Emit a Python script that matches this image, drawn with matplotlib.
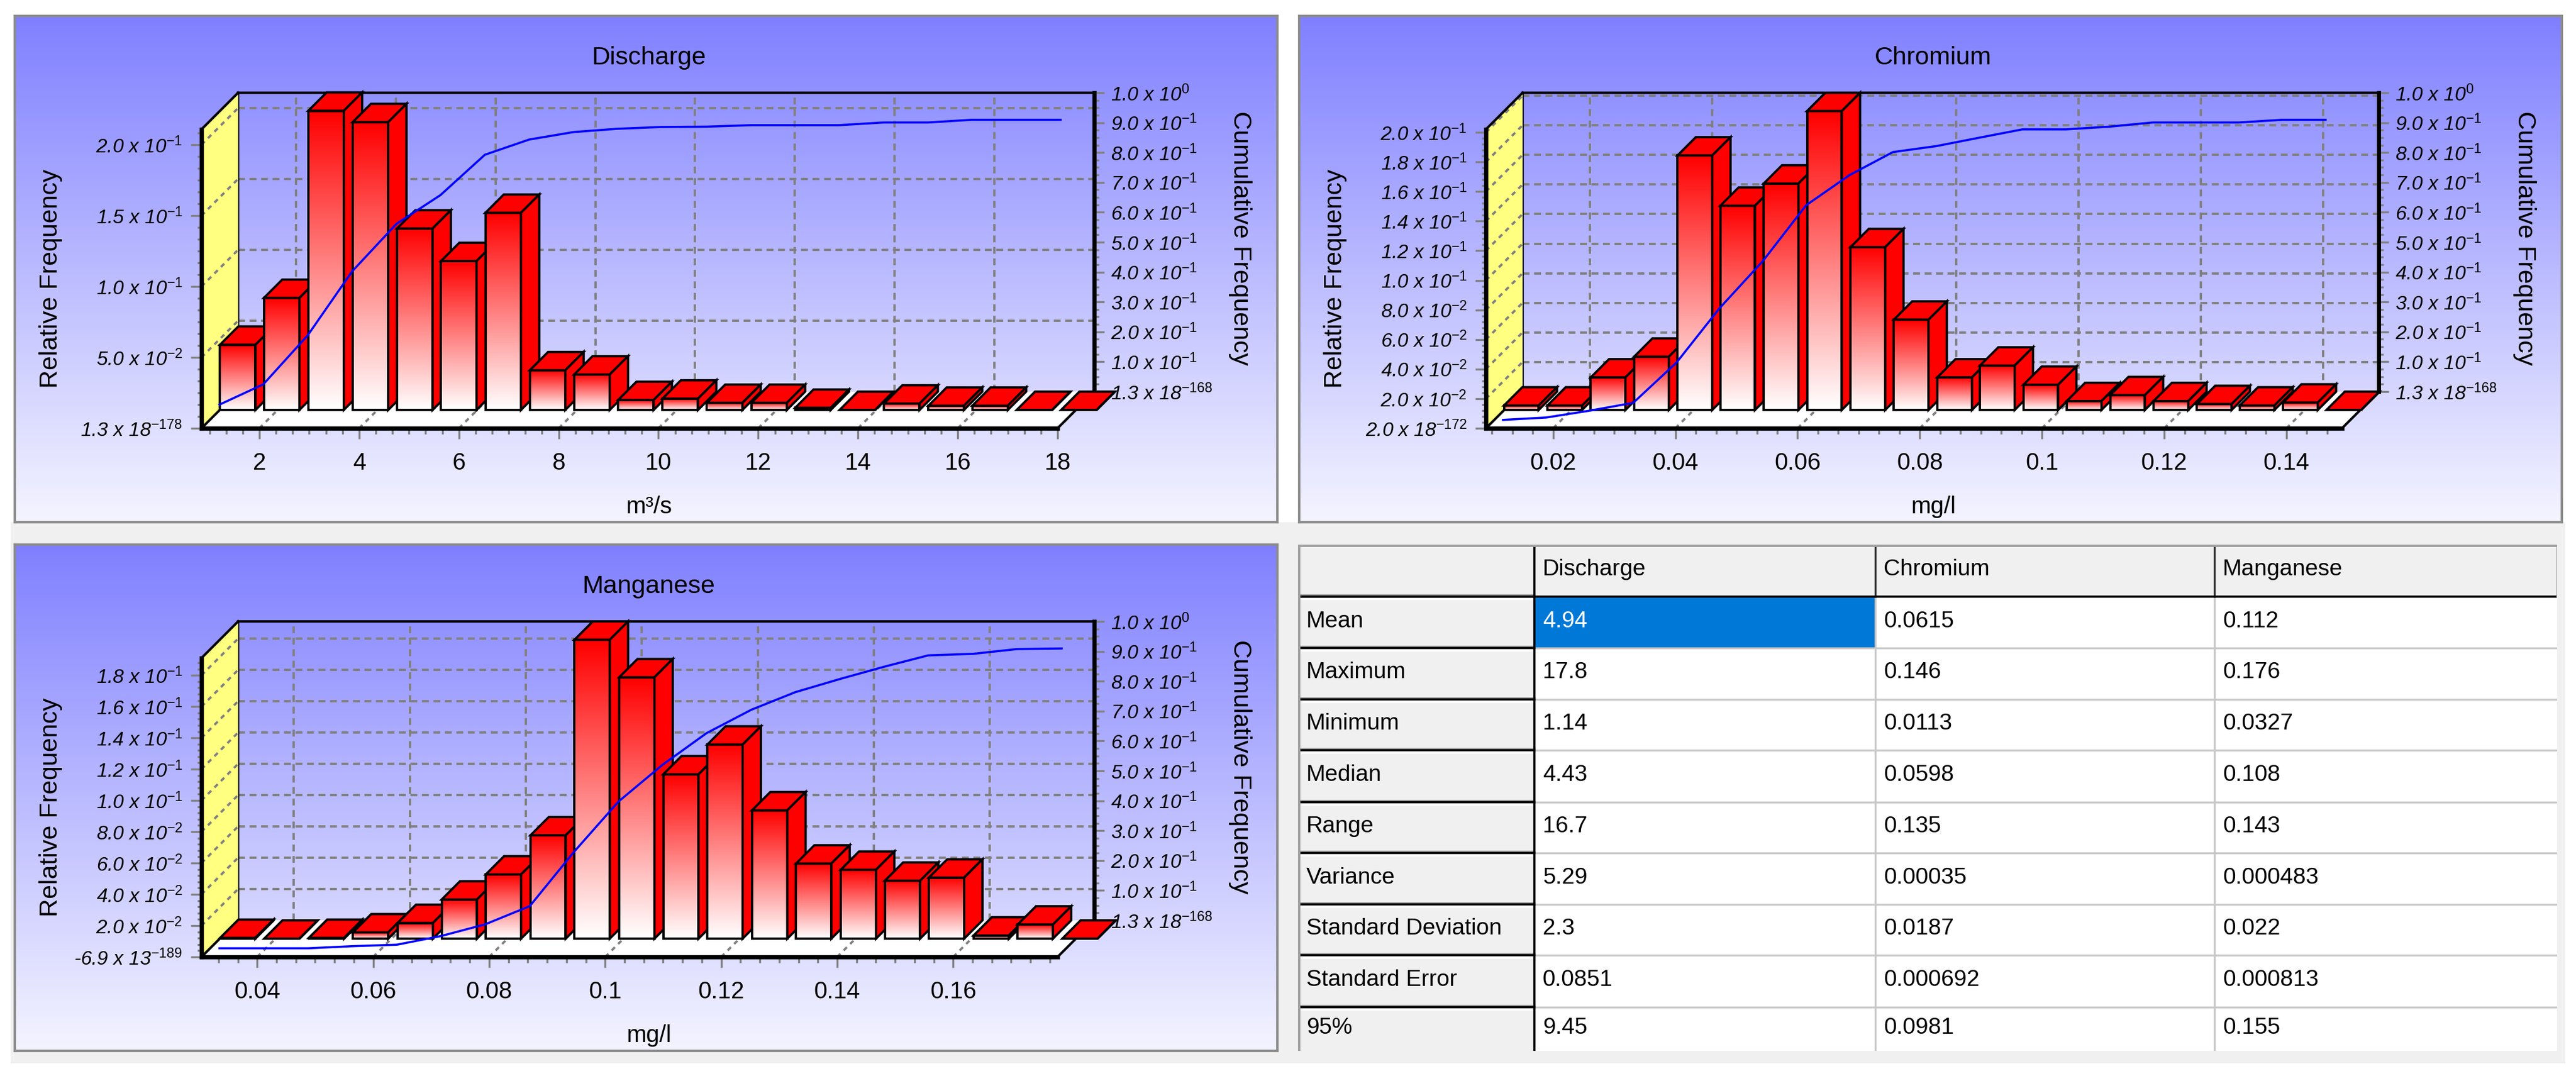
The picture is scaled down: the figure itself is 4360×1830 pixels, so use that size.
import numpy as np
import matplotlib
matplotlib.use("Agg")
import matplotlib.pyplot as plt
from matplotlib.patches import Polygon, Rectangle
from matplotlib.ticker import AutoMinorLocator
from matplotlib.transforms import blended_transform_factory

plt.rcParams['font.family'] = ['Liberation Sans', 'DejaVu Sans']
plt.rcParams['mathtext.fontset'] = 'custom'
plt.rcParams['mathtext.it'] = 'Liberation Sans:italic'
plt.rcParams['mathtext.rm'] = 'Liberation Sans'
plt.rcParams['mathtext.default'] = 'it'

# ---- histogram data ----
dis_centers = [1.20, 2.08, 2.97, 3.86, 4.75, 5.63, 6.52, 7.41, 8.30, 9.18,
               10.07, 10.96, 11.85, 12.73, 13.62, 14.51, 15.40, 16.28, 17.17, 18.06]
dis_freq = [0.046, 0.079, 0.211, 0.203, 0.128, 0.105, 0.139, 0.028, 0.025, 0.007,
            0.008, 0.005, 0.005, 0.0015, 0.0, 0.0045, 0.003, 0.003, 0.0, 0.0]
dis_cum = [0.079, 0.147, 0.311, 0.525, 0.684, 0.780, 0.915, 0.966, 0.991, 1.002,
           1.008, 1.009, 1.014, 1.014, 1.014, 1.023, 1.023, 1.032, 1.032, 1.032]

chr_centers = [0.0118, 0.0189, 0.0260, 0.0331, 0.0402, 0.0472, 0.0543, 0.0614, 0.0685, 0.0756,
               0.0827, 0.0897, 0.0968, 0.1039, 0.1110, 0.1181, 0.1252, 0.1322, 0.1393, 0.1464]
chr_freq = [0.003, 0.003, 0.022, 0.036, 0.172, 0.138, 0.153, 0.202, 0.110, 0.061,
            0.022, 0.030, 0.017, 0.006, 0.010, 0.006, 0.004, 0.003, 0.005, 0.0]
chr_cum = [0.028, 0.036, 0.059, 0.085, 0.220, 0.401, 0.559, 0.746, 0.847, 0.924,
           0.944, 0.972, 1.000, 1.000, 1.009, 1.023, 1.023, 1.023, 1.032, 1.032]

mn_centers = [0.0335, 0.0411, 0.0488, 0.0564, 0.0641, 0.0717, 0.0793, 0.0870, 0.0946, 0.1023,
              0.1099, 0.1175, 0.1252, 0.1328, 0.1405, 0.1481, 0.1557, 0.1634, 0.1710, 0.1787]
mn_freq = [0.0005, 0.0, 0.0005, 0.004, 0.010, 0.025, 0.041, 0.066, 0.191, 0.167,
           0.105, 0.124, 0.082, 0.048, 0.044, 0.037, 0.039, 0.002, 0.009, 0.0]
mn_cum = [0.029, 0.029, 0.029, 0.036, 0.041, 0.070, 0.109, 0.170, 0.351, 0.520,
          0.643, 0.749, 0.827, 0.886, 0.930, 0.971, 1.009, 1.014, 1.030, 1.032]

# ---- axis ticks / labels ----
dis_xticks = [2, 4, 6, 8, 10, 12, 14, 16, 18]
dis_xticklabels = ['2', '4', '6', '8', '10', '12', '14', '16', '18']
dis_yticks = [0, 0.05, 0.10, 0.15, 0.20]
dis_yticklabels = ['1.3 x 18$^{-178}$', '5.0 x 10$^{-2}$', '1.0 x 10$^{-1}$',
                   '1.5 x 10$^{-1}$', '2.0 x 10$^{-1}$']

chr_xticks = [0.02, 0.04, 0.06, 0.08, 0.10, 0.12, 0.14]
chr_xticklabels = ['0.02', '0.04', '0.06', '0.08', '0.1', '0.12', '0.14']
chr_yticks = [0, 0.02, 0.04, 0.06, 0.08, 0.10, 0.12, 0.14, 0.16, 0.18, 0.20]
chr_yticklabels = ['2.0 x 18$^{-172}$', '2.0 x 10$^{-2}$', '4.0 x 10$^{-2}$', '6.0 x 10$^{-2}$',
                   '8.0 x 10$^{-2}$', '1.0 x 10$^{-1}$', '1.2 x 10$^{-1}$', '1.4 x 10$^{-1}$',
                   '1.6 x 10$^{-1}$', '1.8 x 10$^{-1}$', '2.0 x 10$^{-1}$']

mn_xticks = [0.04, 0.06, 0.08, 0.10, 0.12, 0.14, 0.16]
mn_xticklabels = ['0.04', '0.06', '0.08', '0.1', '0.12', '0.14', '0.16']
mn_yticks = [0, 0.02, 0.04, 0.06, 0.08, 0.10, 0.12, 0.14, 0.16, 0.18]
mn_yticklabels = ['-6.9 x 13$^{-189}$', '2.0 x 10$^{-2}$', '4.0 x 10$^{-2}$', '6.0 x 10$^{-2}$',
                  '8.0 x 10$^{-2}$', '1.0 x 10$^{-1}$', '1.2 x 10$^{-1}$', '1.4 x 10$^{-1}$',
                  '1.6 x 10$^{-1}$', '1.8 x 10$^{-1}$']

cum_ticks = [0, 0.1, 0.2, 0.3, 0.4, 0.5, 0.6, 0.7, 0.8, 0.9, 1.0]
cum_ticklabels = ['1.3 x 18$^{-168}$', '1.0 x 10$^{-1}$', '2.0 x 10$^{-1}$', '3.0 x 10$^{-1}$',
                  '4.0 x 10$^{-1}$', '5.0 x 10$^{-1}$', '6.0 x 10$^{-1}$', '7.0 x 10$^{-1}$',
                  '8.0 x 10$^{-1}$', '9.0 x 10$^{-1}$', '1.0 x 10$^{0}$']

# ---- summary table ----
table_cols = ['Discharge', 'Chromium', 'Manganese']
table_rows = ['Mean', 'Maximum', 'Minimum', 'Median', 'Range', 'Variance',
              'Standard Deviation', 'Standard Error', '95%']
discharge_stats = ['4.94', '17.8', '1.14', '4.43', '16.7', '5.29', '2.3', '0.0851', '9.45']
chromium_stats = ['0.0615', '0.146', '0.0113', '0.0598', '0.135', '0.00035', '0.0187', '0.000692', '0.0981']
manganese_stats = ['0.112', '0.176', '0.0327', '0.108', '0.143', '0.000483', '0.022', '0.000813', '0.155']

W, H, DPI = 4360, 1830, 200
D = 62                 # depth of the fake 3d box, px
PW, PH = 2137, 857     # panel size
BW, BH = 1449, 506     # back wall size
GRID = '#808080'
TICKFS = 12

fig = plt.figure(figsize=(W / DPI, H / DPI), dpi=DPI, facecolor='white')


def frect(x, y, w, h):
    return [x / W, 1 - (y + h) / H, w / W, h / H]


t = np.linspace(0, 1, 256)[:, None, None]
panel_grad = np.array([128, 128, 255]) / 255 + (np.array([244, 244, 255]) - np.array([128, 128, 255])) / 255 * t
tb = np.linspace(0, 1, 128)[:, None]
bar_grad = np.stack([np.ones_like(tb), tb, tb], axis=-1)

fig.patches.append(Rectangle((18 / W, 1 - 1800 / H), 4324 / W, 916 / H, transform=fig.transFigure,
                             fc='#f0f0f0', ec='none', zorder=-5))


def draw_chart(px, py, title, xlabel, centers, freq, cum, xlim, ylim,
               xticks, xticklabels, yticks, yticklabels, xminor, yminor):
    axp = fig.add_axes(frect(px, py, PW, PH), zorder=0)
    axp.imshow(panel_grad, extent=(0, 1, 0, 1), aspect='auto')
    axp.set_xlim(0, 1)
    axp.set_ylim(0, 1)
    axp.set_xticks([])
    axp.set_yticks([])
    for s in axp.spines.values():
        s.set_color('#8c8c8c')
        s.set_linewidth(1.5)

    bx, by = px + 378, py + 130
    axb = fig.add_axes(frect(bx, by, BW, BH), zorder=1)
    axb.patch.set_visible(False)
    axb.set_xlim(xlim)
    axb.set_ylim(ylim)
    axb.set_xticks(xticks)
    axb.set_yticks(yticks[1:])
    axb.tick_params(length=0, labelbottom=False, labelleft=False)
    axb.grid(True, color=GRID, linestyle=(0, (3, 2)), linewidth=1.4)
    axb.spines['bottom'].set_visible(False)
    axb.spines['right'].set_visible(False)
    axb.spines['top'].set_linewidth(1.5)
    axb.spines['left'].set_linewidth(1.5)

    axr = axb.twinx()
    axr.set_zorder(1.5)
    axr.set_ylim(0, 1)
    axr.set_yticks(cum_ticks, cum_ticklabels, fontsize=TICKFS, fontstyle='italic')
    axr.yaxis.set_minor_locator(AutoMinorLocator(4))
    axr.tick_params(which='major', length=6, width=1.2, color=GRID, pad=4)
    axr.tick_params(which='minor', length=3, width=1.2, color=GRID)
    for side in ['top', 'bottom', 'left']:
        axr.spines[side].set_visible(False)
    axr.spines['right'].set_linewidth(2.5)

    axf = fig.add_axes(frect(bx - D, by + D, BW, BH), zorder=2)
    axf.patch.set_visible(False)

    sx = BW / (xlim[1] - xlim[0])
    sy = BH / (ylim[1] - ylim[0])
    ddx, ddy = D / sx, D / sy
    x0, x1 = xlim
    y1 = ylim[1]

    # left wall and floor
    axf.add_patch(Polygon([(x0, 0), (x0, y1), (x0 + ddx, y1 + ddy), (x0 + ddx, ddy)],
                          fc='#ffff80', ec='none', zorder=1, clip_on=False))
    axf.add_patch(Polygon([(x0, 0), (x1, 0), (x1 + ddx, ddy), (x0 + ddx, ddy)],
                          fc='white', ec='none', zorder=1, clip_on=False))
    for yt in yticks[1:]:
        axf.plot([x0, x0 + ddx], [yt, yt + ddy], color=GRID, lw=1.4, ls=(0, (2, 2)),
                 zorder=1.5, clip_on=False)
    for xt in xticks:
        axf.plot([xt, xt + ddx], [0, ddy], color=GRID, lw=1.4, ls=(0, (2, 2)),
                 zorder=1.5, clip_on=False)
    axf.plot([x0, x0 + ddx], [y1, y1 + ddy], color='black', lw=1.5, zorder=2, clip_on=False)
    axf.plot([x0, x0 + ddx], [0, ddy], color='black', lw=1.5, zorder=2, clip_on=False)
    axf.plot([x1, x1 + ddx], [0, ddy], color='black', lw=1.5, zorder=2, clip_on=False)

    # bars, standing in the back half of the box
    w = 0.8 * np.median(np.diff(centers))
    hx, hy = ddx / 2, ddy / 2
    for i, (c, h) in enumerate(zip(centers, freq)):
        z = 3 + i * 0.01
        xl = c - w / 2 + hx
        yb = hy
        if h > 0:
            axf.imshow(bar_grad, extent=(xl, xl + w, yb, yb + h), aspect='auto',
                       zorder=z, clip_on=False, interpolation='bilinear')
        axf.add_patch(Rectangle((xl, yb), w, h, fill=False, ec='black', lw=1.4,
                                zorder=z, clip_on=False))
        axf.add_patch(Polygon([(xl, yb + h), (xl + w, yb + h), (xl + w + hx, yb + h + hy),
                               (xl + hx, yb + h + hy)], fc='#ff0000', ec='black', lw=1.4,
                              zorder=z, clip_on=False))
        axf.add_patch(Polygon([(xl + w, yb), (xl + w + hx, yb + hy), (xl + w + hx, yb + h + hy),
                               (xl + w, yb + h)], fc='#ff0000', ec='black', lw=1.4,
                              zorder=z, clip_on=False))

    tr = blended_transform_factory(axf.transData, axf.transAxes)
    axf.plot(centers, cum, color='#0000ff', lw=1.3, transform=tr, clip_on=False, zorder=10)

    axf.set_xlim(xlim)
    axf.set_ylim(ylim)
    axf.set_xticks(xticks, xticklabels, fontsize=14.5)
    axf.set_yticks(yticks, yticklabels, fontsize=TICKFS, fontstyle='italic')
    axf.xaxis.set_minor_locator(AutoMinorLocator(xminor))
    axf.yaxis.set_minor_locator(AutoMinorLocator(yminor))
    axf.tick_params(which='major', direction='out', length=6.5, width=1.2, color=GRID)
    axf.tick_params(axis='x', which='major', pad=8)
    axf.tick_params(axis='y', which='major', pad=5)
    axf.tick_params(axis='x', which='minor', length=3.5, width=1.2, color=GRID)
    axf.tick_params(axis='y', which='minor', length=2.5, width=1.2, color=GRID)
    axf.spines['top'].set_visible(False)
    axf.spines['right'].set_visible(False)
    axf.spines['left'].set_linewidth(2.6)
    axf.spines['bottom'].set_linewidth(2.6)

    fig.text((px + 1073) / W, 1 - (py + 71) / H, title, fontsize=15.5, ha='center', va='center')
    fig.text((px + 1073) / W, 1 - (py + 831) / H, xlabel, fontsize=14.5, ha='center', va='center')
    fig.text((px + 61) / W, 1 - (py + 445) / H, 'Relative Frequency', fontsize=15.5,
             rotation=90, ha='center', va='center')
    fig.text((px + 2074) / W, 1 - (py + 376) / H, 'Cumulative Frequency', fontsize=15.5,
             rotation=270, ha='center', va='center')


draw_chart(25, 27, 'Discharge', 'm³/s', dis_centers, dis_freq, dis_cum, (0.84, 18.0), (0, 0.2108),
           dis_xticks, dis_xticklabels, dis_yticks, dis_yticklabels, 6, 6)
draw_chart(2199, 27, 'Chromium', 'mg/l', chr_centers, chr_freq, chr_cum, (0.0090, 0.1491), (0, 0.202),
           chr_xticks, chr_xticklabels, chr_yticks, chr_yticklabels, 6, 5)
draw_chart(25, 922, 'Manganese', 'mg/l', mn_centers, mn_freq, mn_cum, (0.0304, 0.178), (0, 0.191),
           mn_xticks, mn_xticklabels, mn_yticks, mn_yticklabels, 6, 5)

# ---- table ----
col_x = [2197, 2597, 3174, 3748, 4328]
row_y = [922, 1010, 1097, 1184, 1270, 1358, 1444, 1531, 1617, 1705, 1779]
axt = fig.add_axes(frect(col_x[0], row_y[0], col_x[-1] - col_x[0], row_y[-1] - row_y[0]), zorder=1)
axt.set_xlim(col_x[0], col_x[-1])
axt.set_ylim(row_y[-1], row_y[0])
axt.axis('off')

axt.add_patch(Rectangle((col_x[0], row_y[0]), col_x[-1] - col_x[0], row_y[-1] - row_y[0],
                        fc='white', ec='none'))
axt.add_patch(Rectangle((col_x[0], row_y[0]), col_x[-1] - col_x[0], row_y[1] - row_y[0],
                        fc='#f0f0f0', ec='none'))
axt.add_patch(Rectangle((col_x[0], row_y[0]), col_x[1] - col_x[0], row_y[-1] - row_y[0],
                        fc='#f0f0f0', ec='none'))
axt.add_patch(Rectangle((col_x[1], row_y[1]), col_x[2] - col_x[1], row_y[2] - row_y[1],
                        fc='#0078d7', ec='none'))

for y in row_y[2:-1]:
    axt.plot([col_x[1], col_x[-1]], [y, y], color='#c8c8c8', lw=1.2)
for x in col_x[2:-1]:
    axt.plot([x, x], [row_y[1], row_y[-1]], color='#c8c8c8', lw=1.2)
    axt.plot([x, x], [row_y[0], row_y[1]], color='#303030', lw=1.2)
for y in row_y[1:-1]:
    axt.plot([col_x[0], col_x[1]], [y - 3, y - 3], color='#a0a0a0', lw=1.0)
    axt.plot([col_x[0], col_x[1]], [y, y], color='black', lw=1.3)
    axt.plot([col_x[0], col_x[1]], [y + 4, y + 4], color='white', lw=1.0)
axt.plot([col_x[0], col_x[-1]], [row_y[1], row_y[1]], color='black', lw=1.3)
axt.plot([col_x[1], col_x[1]], [row_y[0], row_y[-1]], color='black', lw=1.3)
axt.plot([col_x[0], col_x[-1]], [row_y[0] + 1, row_y[0] + 1], color='#a0a0a0', lw=1.8)
axt.plot([col_x[0] + 1, col_x[0] + 1], [row_y[0], row_y[-1]], color='#a0a0a0', lw=1.8)
axt.plot([col_x[-1], col_x[-1]], [row_y[0], row_y[1]], color='#a0a0a0', lw=1.2)

for j, name in enumerate(table_cols):
    axt.text(col_x[j + 1] + 14, (row_y[0] + row_y[1]) / 2 - 2, name, fontsize=14, va='center')
for i, name in enumerate(table_rows):
    yc = (row_y[i + 1] + row_y[i + 2]) / 2 - 2
    axt.text(col_x[0] + 14, yc, name, fontsize=14, va='center')
    for j, col in enumerate([discharge_stats, chromium_stats, manganese_stats]):
        color = 'white' if (i == 0 and j == 0) else 'black'
        axt.text(col_x[j + 1] + 14, yc, col[i], fontsize=14, va='center', color=color)

fig.savefig('out.png', dpi=DPI, facecolor=fig.get_facecolor())
